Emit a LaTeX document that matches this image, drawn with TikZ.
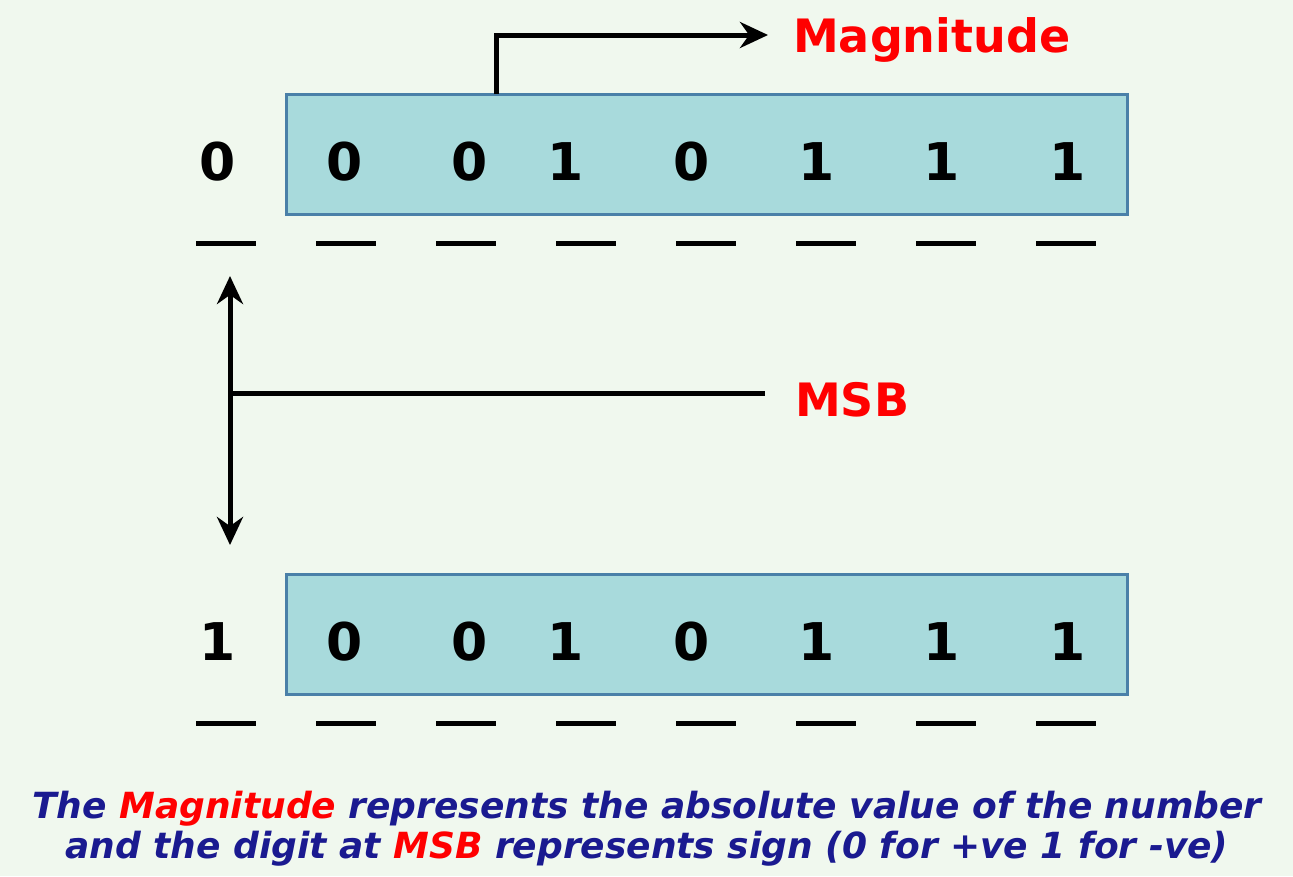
\documentclass[tikz,border=0pt]{standalone}
\usepackage{fontspec}
\setmainfont{DejaVu Sans}
\usetikzlibrary{arrows.meta}
\definecolor{bg}{HTML}{F0F8EE}
\definecolor{boxf}{HTML}{A8DADC}
\definecolor{boxd}{HTML}{4A80A8}
\definecolor{nb}{HTML}{1A1A90}
\begin{document}
\begin{tikzpicture}[x=1pt,y=-1pt,
  digit/.style={font=\bfseries\fontsize{52}{54}\selectfont},
  lab/.style={font=\bfseries\fontsize{46}{48}\selectfont,text=red,anchor=west,inner sep=0},
  bx/.style={draw=boxd,line width=3pt,fill=boxf},
  dsh/.style={line width=5pt},
  tip/.style={Stealth[length=28pt,width=26pt]},
  arr/.style={line width=5pt,-{Stealth[length=28pt,width=26pt]}}]
\fill[bg] (0,0) rectangle (1293,876);
\useasboundingbox (0,0) rectangle (1293,876);
\foreach \r/\y/\b in {1/94/0,2/574/1}{
  \draw[bx] (286,\y) rectangle (1127,\y+120);
  \foreach \i/\x/\d in {0/218/\b,1/345/0,2/470/0,3/566/1,4/692/0,5/817/1,6/942/1,7/1068/1}
    \node[digit] (d\r\i) at (\x,\y+68) {\d};
  \foreach \i/\x in {0/226,1/346,2/466,3/586,4/706,5/826,6/946,7/1066}
    \draw[dsh] (\x-30,\y+149) -- (\x+30,\y+149);
}
\node[lab] (mag) at (793,40) {Magnitude};
\node[lab] (msb) at (795,400) {MSB};
\coordinate (m0) at (496,94);
\coordinate (m1) at (496,35);
\coordinate (m2) at (768,35);
\draw[arr] (m0) -- (m1) -- (m2);
\coordinate (v1) at (230,276);
\coordinate (v2) at (230,545);
\coordinate (h0) at (230,393);
\coordinate (h1) at (765,393);
\draw[line width=5pt,{Stealth[length=28pt,width=26pt]}-{Stealth[length=28pt,width=26pt]}] (v1) -- (v2);
\draw[line width=5pt] (h0) -- (h1);
\node[font=\bfseries\itshape\fontsize{36}{40}\selectfont,text=nb,align=center] (cap) at (647,829)
 {The {\color{red}Magnitude} represents the absolute value of the number\\and the digit at {\color{red}MSB} represents sign (0 for +ve 1 for -ve)};
\end{tikzpicture}
\end{document}
